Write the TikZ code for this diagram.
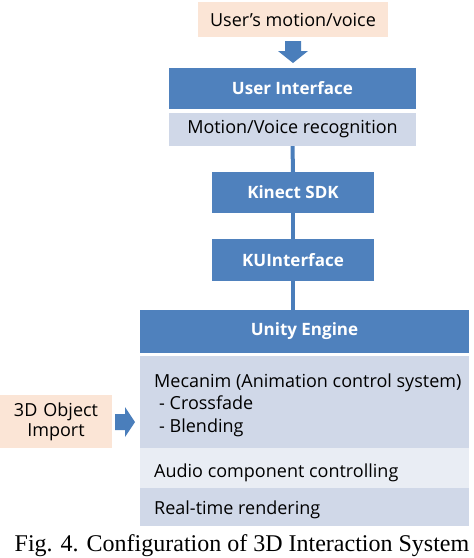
\documentclass[tikz,border=0pt]{standalone}
\usepackage{fontspec}
\setmainfont{Open Sans}
\newfontfamily\capfont{Liberation Serif}
\definecolor{hdrblue}{HTML}{4F81BD}
\definecolor{linkblue}{HTML}{4A7EBB}
\definecolor{peach}{HTML}{FBE5D6}
\definecolor{paleA}{HTML}{D0D8E8}
\definecolor{paleB}{HTML}{E9EDF4}
\tikzset{
  hdr/.style={fill=hdrblue, text=white, font=\fontsize{17}{19}\selectfont\bfseries, inner sep=0pt, anchor=center},
  sect/.style={fill=paleA, text=black, font=\fontsize{18}{20}\selectfont, inner sep=0pt},
  src/.style={fill=peach, text=black, font=\fontsize{18}{20}\selectfont, inner sep=0pt, align=center},
  link/.style={draw=linkblue, line width=4pt},
  blockarrow/.style={fill=linkblue, draw=none},
  txt/.style={font=\fontsize{18}{20}\selectfont, inner sep=0pt, anchor=base west}
}
\begin{document}
\begin{tikzpicture}[x=1pt, y=-1pt]
\useasboundingbox (0,0) rectangle (474,558);
% top source
\node[src, minimum width=190pt, minimum height=35pt] (user) at (293,19.5) {User’s motion/voice};
% User interface
\node[hdr, minimum width=247pt, minimum height=41pt] (ui) at (292.5,88.5) {User Interface};
\node[sect, minimum width=247pt, minimum height=33pt] (rec) at (292.5,129.5) {Motion/Voice recognition};
\node[hdr, minimum width=162pt, minimum height=41pt] (kinect) at (293,192.5) {Kinect SDK};
\node[hdr, minimum width=162pt, minimum height=42pt] (ku) at (293,260) {KUInterface};
% Unity
\node[hdr, minimum width=329pt, minimum height=43pt] (unity) at (304.5,331.5) {Unity Engine};
\node[sect, minimum width=329pt, minimum height=92pt] (mec) at (304.5,402) {};
\node[sect, fill=paleB, minimum width=329pt, minimum height=40pt] (audio) at (304.5,468) {};
\node[sect, minimum width=329pt, minimum height=38pt] (rt) at (304.5,507) {};
\node[txt] (mect1) at (154,387) {Mecanim (Animation control system)};
\node[txt] (mect2) at (159,409) {- Crossfade};
\node[txt] (mect3) at (159,432) {- Blending};
\node[txt] (audt) at (154,477) {Audio component controlling};
\node[txt] (rtt) at (154,514) {Real-time rendering};
% 3D object import
\node[src, minimum width=112pt, minimum height=53pt, text width=112pt] (obj) at (56,421.5) {\fontsize{18}{23}\selectfont 3D Object\\Import};
% connectors
\draw[link] (rec.south) -- (kinect.north);
\draw[link] (kinect.south) -- (ku.north);
\draw[link] (ku.south) -- (ku.south |- unity.north);
% block arrows
\coordinate (da) at (293,41);
\fill[blockarrow] (da) ++(-8,0) -- ++(16,0) -- ++(0,10) -- ++(7,0) -- (293,63) -- (278,51) -- ++(7,0) -- cycle;
\coordinate (ra) at (115,422);
\fill[blockarrow] (ra) ++(0,-8) -- ++(10,0) -- ++(0,-7) -- (135,422) -- (125,437) -- ++(0,-7) -- ++(-10,0) -- cycle;
% caption
\node[font=\capfont\fontsize{24}{26}\selectfont, inner sep=0pt, anchor=base] (cap) at (242,551) {Fig. 4. Configuration of 3D Interaction System};
\end{tikzpicture}
\end{document}
